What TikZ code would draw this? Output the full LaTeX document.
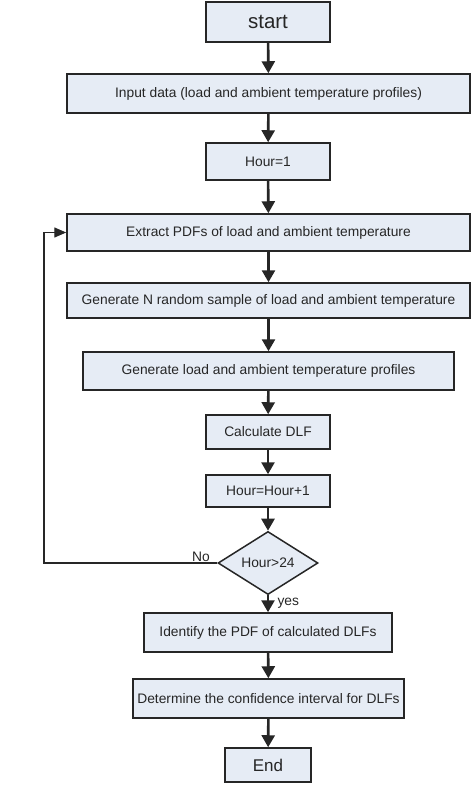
\documentclass[tikz,border=0pt]{standalone}
\usepackage{fontspec}
\setmainfont{Liberation Sans}
\usetikzlibrary{arrows.meta, shapes.geometric}
\definecolor{boxfill}{HTML}{E6ECF5}
\definecolor{ink}{HTML}{262626}

\begin{document}
\begin{tikzpicture}[x=1pt, y=-1pt,
    every node/.style={align=center, font=\fontsize{13.8}{16}\selectfont, text=ink},
    box/.style={draw=ink, line width=1.5pt, fill=boxfill, inner sep=0pt},
    decision/.style={diamond, draw=ink, line width=1.5pt, fill=boxfill, inner sep=0pt},
    flow/.style={draw=ink, line width=2.6pt, -{Triangle[width=13pt, length=12pt]}},
    back/.style={draw=ink, line width=1.4pt, -{Triangle[width=10pt, length=12pt]}}]
  \useasboundingbox (0, 0) rectangle (474, 786);

  % main chain of steps
  \node[box, minimum width=124pt, minimum height=40pt, font=\fontsize{20.5}{23}\selectfont] (start) at (268, 22) {start};
  \node[box, minimum width=403pt, minimum height=39pt] (input) at (268.5, 93.5) {Input data (load and ambient temperature profiles)};
  \node[box, minimum width=124pt, minimum height=37pt] (hour1) at (268, 161.5) {Hour=1};
  \node[box, minimum width=403pt, minimum height=37pt] (extract) at (268.5, 232.5) {Extract PDFs of load and ambient temperature};
  \node[box, minimum width=403pt, minimum height=35pt] (sample) at (268.5, 300.5) {Generate N random sample of load and ambient temperature};
  \node[box, minimum width=371pt, minimum height=38pt] (profiles) at (268.5, 371) {Generate load and ambient temperature profiles};
  \node[box, minimum width=124pt, minimum height=34pt] (calc) at (268, 432) {Calculate DLF};
  \node[box, minimum width=124pt, minimum height=32pt] (next) at (268, 491) {Hour=Hour+1};
  \node[decision, minimum width=100pt, minimum height=54pt] (check) at (268, 563) {Hour>24};
  \node[box, minimum width=248pt, minimum height=39pt] (identify) at (268, 632.5) {Identify the PDF of calculated DLFs};
  \node[box, minimum width=271pt, minimum height=39pt] (confid) at (268.5, 698.5) {Determine the confidence interval for DLFs};
  \node[box, minimum width=86pt, minimum height=34pt, font=\fontsize{17}{19}\selectfont] (stop) at (268, 765) {End};

  \draw[flow] (start) -- (input);
  \draw[flow] (input) -- (hour1);
  \draw[flow] (hour1) -- (extract);
  \draw[flow] (extract) -- (sample);
  \draw[flow] (sample) -- (profiles);
  \draw[flow] (profiles) -- (calc);
  \draw[flow] (calc) -- (next);
  \draw[flow] (next) -- (check);
  \draw[flow] (check) -- (identify);
  \draw[flow] (identify) -- (confid);
  \draw[flow] (confid) -- (stop);

  % loop back while hours remain
  \coordinate (corner) at (44, 563);
  \draw[back] (check.west) -- (corner) |- (extract.west);
  \node[anchor=south east] (nolbl) at ([xshift=-4pt, yshift=-2pt]check.west) {No};
  \node[anchor=west] (yeslbl) at (274, 603) {yes};
\end{tikzpicture}
\end{document}
